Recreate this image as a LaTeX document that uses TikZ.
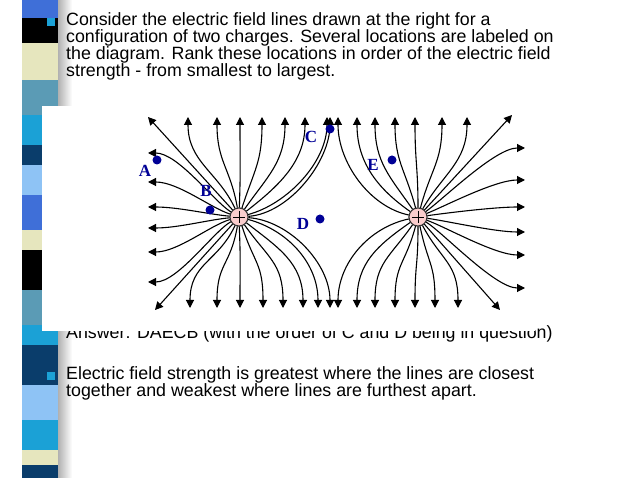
\documentclass[tikz,border=0pt]{standalone}
\usepackage{fontspec}
\setmainfont{Liberation Sans}
\newfontfamily\lblfont{Liberation Serif}
\usetikzlibrary{arrows.meta,calc}
\definecolor{bullcyan}{HTML}{1BA1D6}
\definecolor{royal}{HTML}{3F6FD8}
\definecolor{beige}{HTML}{E6E6BE}
\definecolor{steel}{HTML}{5B9BB5}
\definecolor{navy}{HTML}{0A3D6B}
\definecolor{lightb}{HTML}{8EC3F5}
\definecolor{ptblue}{RGB}{0,0,150}
\definecolor{qpink}{RGB}{250,205,205}
\tikzset{
  fline/.style={line width=1.1pt,-{Triangle[length=8pt,width=8pt]}},
  charge/.style={circle,draw=black!80,line width=1pt,fill=qpink,minimum size=18pt,inner sep=0pt},
  spot/.style={circle,fill=ptblue,inner sep=0pt,minimum size=9pt},
  spotlbl/.style={text=ptblue,font=\lblfont\bfseries\fontsize{17}{17}\selectfont},
  bodytext/.style={anchor=north west,align=left,inner sep=0pt,font=\fontsize{17.8}{17.2}\selectfont},
  bullet/.style={fill=bullcyan,minimum size=8pt,inner sep=0pt}
}
\begin{document}
\begin{tikzpicture}[x=1pt,y=-1pt]
\useasboundingbox (0,0) rectangle (638,478);
%Stripe
\shade[left color=black!35,right color=white] (56,0) rectangle (72,478);
\foreach \ya/\yb/\col in {0/18/royal,18/43/black,43/80/beige,80/115/steel,115/145/bullcyan,
  145/165/navy,165/195/lightb,195/230/royal,230/250/beige,250/290/black,290/325/steel,
  325/345/bullcyan,345/385/navy,385/420/lightb,420/450/bullcyan,450/465/beige,465/478/navy}
  \fill[\col] (22,\ya) rectangle (58,\yb);
%Text
\node[bullet] (bul1) at (51,22) {};
\node[bodytext] (txt1) at (66,12) {Consider the electric field lines drawn at the right for a\\configuration of two charges. Several locations are labeled on\\the diagram. Rank these locations in order of the electric field\\strength - from smallest to largest.};
\node[bodytext] (ans) at (66,325) {Answer: DAECB (with the order of C and D being in question)};
\node[bullet] (bul2) at (51,376) {};
\node[bodytext] (txt2) at (66,366) {Electric field strength is greatest where the lines are closest\\together and weakest where lines are furthest apart.};
%Diagram box
\fill[white] (42,106) rectangle (535,331);
\node[charge] (Lq) at (239,217) {};
\node[charge] (Rq) at (418,217) {};
%Field lines, left charge
\foreach \a/\x in {-115/188,-100/217,-88/240,-72/262,-55/285,-38/305,-15/327,-4/330}
  {\coordinate (e) at (\x,117); \draw[fline] (Lq) .. controls ($(Lq)+(\a:50)$) and (\x,162) .. (e);}
\foreach \a/\x in {115/190,100/217,88/240,72/263,55/283,38/303,15/318,4/330}
  {\coordinate (e) at (\x,308); \draw[fline] (Lq) .. controls ($(Lq)+(\a:50)$) and (\x,263) .. (e);}
\foreach \a/\y in {-148/153,-162/182,-175/207,175/228,164/252,150/282}
  {\coordinate (e) at (148,\y); \draw[fline] (Lq) .. controls ($(Lq)+(\a:30)$) and (178,\y) .. (e);}
\coordinate (lc1) at (148,117); \draw[fline] (Lq) -- (lc1);
\coordinate (lc2) at (155,310); \draw[fline] (Lq) -- (lc2);
%Field lines, right charge
\foreach \a/\x in {-168/338,-145/357,-125/375,-105/395,-90/415,-75/442,-60/467}
  {\coordinate (e) at (\x,117); \draw[fline] (Rq) .. controls ($(Rq)+(\a:50)$) and (\x,162) .. (e);}
\foreach \a/\x in {168/338,145/357,125/375,105/395,90/415,78/435,62/458}
  {\coordinate (e) at (\x,308); \draw[fline] (Rq) .. controls ($(Rq)+(\a:50)$) and (\x,263) .. (e);}
\foreach \a/\y in {-35/148,-22/180,-8/207,8/232,20/255,32/288}
  {\coordinate (e) at (525,\y); \draw[fline] (Rq) .. controls ($(Rq)+(\a:30)$) and (495,\y) .. (e);}
\coordinate (rc1) at (512,115); \draw[fline] (Rq) -- (rc1);
\coordinate (rc2) at (500,310); \draw[fline] (Rq) -- (rc2);
%Charges on top
\foreach \q in {Lq,Rq}{
  \node[charge] at (\q) {};
  \draw[line width=0.8pt] ($(\q)+(-6,0)$) -- ($(\q)+(6,0)$) ($(\q)+(0,-6)$) -- ($(\q)+(0,6)$);}
%Locations
\node[spot] (A) at (157,160) {}; \node[spotlbl] at (145,171) {A};
\node[spot] (B) at (210,210) {}; \node[spotlbl] at (206,191) {B};
\node[spot] (C) at (330,129) {}; \node[spotlbl] at (311,137) {C};
\node[spot] (D) at (320,219) {}; \node[spotlbl] at (303,224) {D};
\node[spot] (E) at (392,160) {}; \node[spotlbl] at (373,165) {E};
\end{tikzpicture}
\end{document}
